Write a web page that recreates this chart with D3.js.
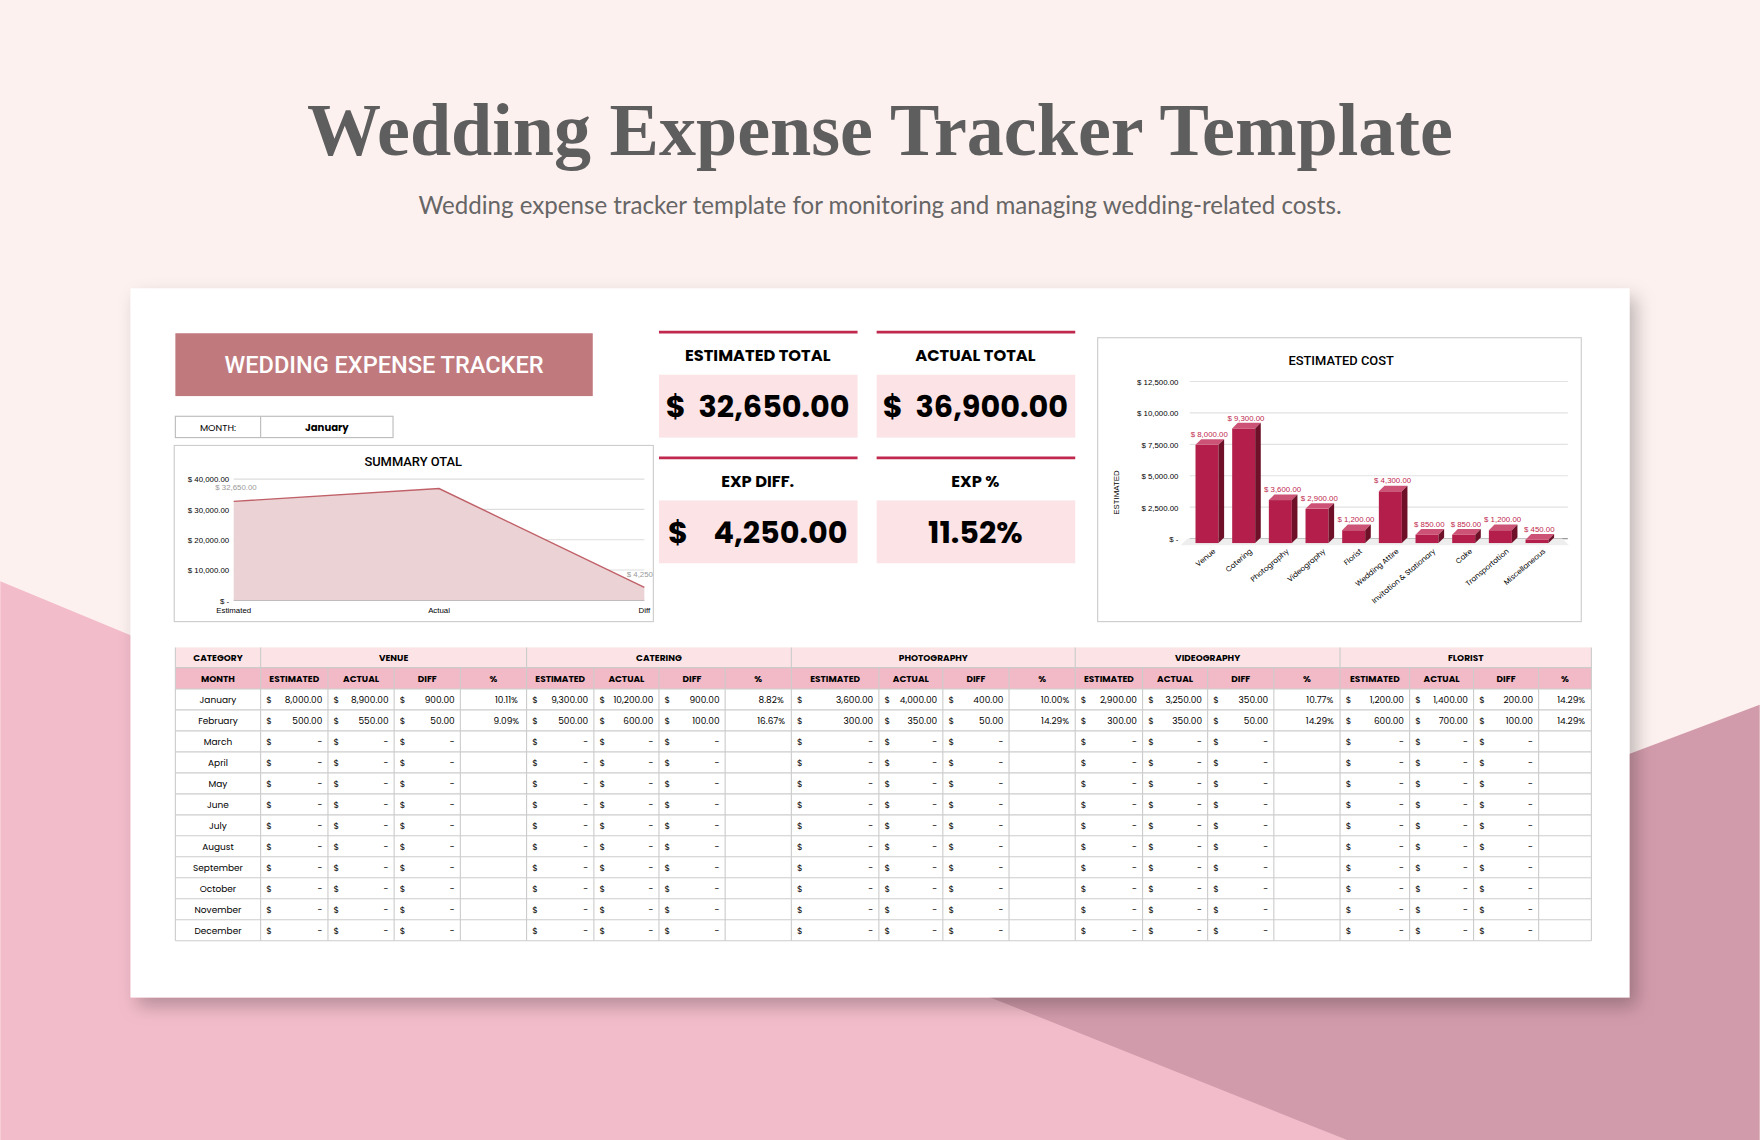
<!DOCTYPE html><html><head><meta charset="utf-8"><script src="https://cdn.jsdelivr.net/npm/d3@7"></script>
<style>body{margin:0;background:#fdf1ef}svg{display:block}</style></head><body><script>
const summaryLabels=["Estimated","Actual","Diff"];
const summaryValues=[32650,36900,4250];
const summaryTicks=[0,10000,20000,30000,40000];
const costCats=["Venue","Catering","Photography","Videography","Florist","Wedding Attire","Invitation & Stationary","Cake","Transportation","Miscellaneous"];
const costValues=[8000,9300,3600,2900,1200,4300,850,850,1200,450];
const costTicks=[0,2500,5000,7500,10000,12500];
const groups=["VENUE","CATERING","PHOTOGRAPHY","VIDEOGRAPHY","FLORIST"];
const months=["January","February","March","April","May","June","July","August","September","October","November","December"];
const tableJan=[["8,000.00","8,900.00","900.00","10.11%"],["9,300.00","10,200.00","900.00","8.82%"],["3,600.00","4,000.00","400.00","10.00%"],["2,900.00","3,250.00","350.00","10.77%"],["1,200.00","1,400.00","200.00","14.29%"]];
const tableFeb=[["500.00","550.00","50.00","9.09%"],["500.00","600.00","100.00","16.67%"],["300.00","350.00","50.00","14.29%"],["300.00","350.00","50.00","14.29%"],["600.00","700.00","100.00","14.29%"]];
const kpis=[["ESTIMATED TOTAL","$  32,650.00"],["ACTUAL TOTAL","$  36,900.00"],["EXP DIFF.","$    4,250.00"],["EXP %","11.52%"]];

const svg=d3.select("body").append("svg").attr("width",1760).attr("height",1140).attr("viewBox","0 0 1568 1016");
const F="Poppins, 'Open Sans', Roboto, sans-serif";
svg.append("rect").attr("width",1568).attr("height",1016).attr("fill","#fdf1ef");
svg.append("path").attr("d","M0,518 L1200,1016 L0,1016Z").attr("fill","#f3bccb");
svg.append("path").attr("d","M880,888 L1568,628 L1568,1016 L1200,1016Z").attr("fill","#d29bab");
svg.append("text").attr("x",784).attr("y",138).attr("text-anchor","middle").attr("font-family","'Liberation Serif', serif").attr("font-size",66).attr("font-weight","bold").attr("fill","#5e5e5e").text("Wedding Expense Tracker Template");
svg.append("text").attr("x",784).attr("y",191).attr("text-anchor","middle").attr("font-family","Lato, sans-serif").attr("font-size",21.5).attr("fill","#666").text("Wedding expense tracker template for monitoring and managing wedding-related costs.");
const defs=svg.append("defs");
const fl=defs.append("filter").attr("id","sh").attr("x","-5%").attr("y","-5%").attr("width","110%").attr("height","115%");
fl.append("feDropShadow").attr("dx",6).attr("dy",8).attr("stdDeviation",8).attr("flood-color","#000").attr("flood-opacity",0.25);
svg.append("rect").attr("x",116).attr("y",257).attr("width",1336).attr("height",632).attr("fill","#fff").attr("filter","url(#sh)");

svg.append("rect").attr("x",156).attr("y",297).attr("width",372).attr("height",56).attr("fill","#c07a7e");
svg.append("text").attr("x",342).attr("y",332).attr("text-anchor","middle").attr("font-family","Roboto, sans-serif").attr("font-size",21).attr("font-weight","500").attr("fill","#fff").text("WEDDING EXPENSE TRACKER");
svg.append("rect").attr("x",156).attr("y",371).attr("width",194).attr("height",19).attr("fill","#fff").attr("stroke","#bbb");
svg.append("line").attr("x1",232).attr("x2",232).attr("y1",371).attr("y2",390).attr("stroke","#bbb");
svg.append("text").attr("x",194).attr("y",384).attr("text-anchor","middle").attr("font-family",F).attr("font-size",8.5).text("MONTH:");
svg.append("text").attr("x",291).attr("y",384).attr("text-anchor","middle").attr("font-family",F).attr("font-size",9).attr("font-weight","bold").text("January");

kpis.forEach((k,i)=>{const x=587+(i%2)*194,y=i<2?296:408;
 svg.append("line").attr("x1",x).attr("x2",x+177).attr("y1",y).attr("y2",y).attr("stroke","#c0284e").attr("stroke-width",2.5);
 svg.append("text").attr("x",x+88).attr("y",y+26).attr("text-anchor","middle").attr("font-family",F).attr("font-size",14.5).attr("font-weight","bold").text(k[0]);
 svg.append("rect").attr("x",x).attr("y",y+38).attr("width",177).attr("height",56).attr("fill","#fbe3e6");
 svg.append("text").attr("x",x+88).attr("y",y+76).attr("text-anchor","middle").attr("font-family",F).attr("font-size",27).attr("font-weight","bold").attr("xml:space","preserve").style("white-space","pre").text(k[1]);
});

svg.append("rect").attr("x",155).attr("y",397).attr("width",427).attr("height",157).attr("fill","#fff").attr("stroke","#ccc");
svg.append("text").attr("x",368).attr("y",415).attr("text-anchor","middle").attr("font-family","Roboto, sans-serif").attr("font-size",11.5).attr("font-weight","500").text("SUMMARY OTAL");
const sx=d3.scalePoint().domain(summaryLabels).range([208,574]);
const sy=d3.scaleLinear().domain([0,40000]).range([535,427]);
summaryTicks.forEach(t=>{svg.append("line").attr("x1",208).attr("x2",574).attr("y1",sy(t)).attr("y2",sy(t)).attr("stroke",t?"#ddd":"#999");
 svg.append("text").attr("x",204).attr("y",sy(t)+3).attr("text-anchor","end").attr("font-family","Arimo, 'Liberation Sans', sans-serif").attr("font-size",7).text(t?"$ "+d3.format(",.2f")(t):"$ -");});
const area=d3.area().x((d,i)=>sx(summaryLabels[i])).y0(sy(0)).y1(d=>sy(d));
svg.append("path").attr("d",area(summaryValues)).attr("fill","#ebd3d5");
svg.append("path").attr("d",d3.line().x((d,i)=>sx(summaryLabels[i])).y(d=>sy(d))(summaryValues)).attr("fill","none").attr("stroke","#c06068").attr("stroke-width",1.3);
summaryLabels.forEach((l,i)=>svg.append("text").attr("x",sx(l)).attr("y",546).attr("text-anchor","middle").attr("font-family","'Liberation Sans', sans-serif").attr("font-size",7).text(l));
svg.append("text").attr("x",210).attr("y",437).attr("text-anchor","middle").attr("font-family","'Liberation Sans', sans-serif").attr("font-size",7).attr("fill","#999").text("$ 32,650.00");
svg.append("text").attr("x",570).attr("y",514).attr("text-anchor","middle").attr("font-family","'Liberation Sans', sans-serif").attr("font-size",7).attr("fill","#999").text("$ 4,250");

svg.append("rect").attr("x",978).attr("y",301).attr("width",431).attr("height",253).attr("fill","#fff").attr("stroke","#ccc");
svg.append("text").attr("x",1195).attr("y",325).attr("text-anchor","middle").attr("font-family","Roboto, sans-serif").attr("font-size",11.5).attr("font-weight","500").text("ESTIMATED COST");
svg.append("text").attr("transform","translate(997,439) rotate(-90)").attr("text-anchor","middle").attr("font-family","'Liberation Sans', sans-serif").attr("font-size",7).text("ESTIMATED");
const bx=d3.scaleBand().domain(costCats).range([1058,1392]).padding(0.22);
const by=d3.scaleLinear().domain([0,12500]).range([480,340]);
costTicks.forEach(t=>{svg.append("line").attr("x1",1060).attr("x2",1397).attr("y1",by(t)).attr("y2",by(t)).attr("stroke",t?"#e2e2e2":"#999");
 svg.append("text").attr("x",1050).attr("y",by(t)+3).attr("text-anchor","end").attr("font-family","'Liberation Sans', sans-serif").attr("font-size",7).text(t?"$ "+d3.format(",.2f")(t):"$ -");});
svg.append("path").attr("d","M1058,480 L1392,480 L1398,486 L1052,486Z").attr("fill","#eee");
costCats.forEach((c,i)=>{const x=bx(c),w=bx.bandwidth()-5,yv=by(costValues[i])+6,b=484,d=5;
 svg.append("rect").attr("x",x).attr("y",yv).attr("width",w).attr("height",b-yv).attr("fill","#b31f4a");
 svg.append("path").attr("d",`M${x},${yv} L${x+d},${yv-d} L${x+w+d},${yv-d} L${x+w},${yv}Z`).attr("fill","#cc5376");
 svg.append("path").attr("d",`M${x+w},${yv} L${x+w+d},${yv-d} L${x+w+d},${b-d} L${x+w},${b}Z`).attr("fill","#6d1028");
 svg.append("text").attr("x",x+w/2+2).attr("y",by(costValues[i])-1).attr("text-anchor","middle").attr("font-family","'Liberation Sans', sans-serif").attr("font-size",7).attr("fill","#c0284e").text("$ "+d3.format(",.2f")(costValues[i]));
 svg.append("text").attr("transform",`translate(${x+w/2+8},492) rotate(-40)`).attr("text-anchor","end").attr("font-family",F).attr("font-size",6.5).text(c);
});

const colX=[156,232,292,351,410,469,529,587,646,705,783,840,899,958,1018,1076,1135,1194,1256,1313,1371,1418];
const r0=577,r1=595,r2=614,rh=18.7;
svg.append("rect").attr("x",156).attr("y",r0).attr("width",1262).attr("height",18).attr("fill","#fbe3e6");
svg.append("rect").attr("x",156).attr("y",r1).attr("width",1262).attr("height",19).attr("fill","#f2b9c6");
const tf=(x,y,s,a,b)=>svg.append("text").attr("x",x).attr("y",y).attr("text-anchor",a||"middle").attr("font-family",F).attr("font-size",8).attr("font-weight",b?"bold":"normal").text(s);
tf(194,589,"CATEGORY","middle",1);tf(194,608,"MONTH","middle",1);
groups.forEach((g,i)=>{tf((colX[1+4*i]+colX[5+4*i])/2,589,g,"middle",1);
 ["ESTIMATED","ACTUAL","DIFF","%"].forEach((h,j)=>tf((colX[1+4*i+j]+colX[2+4*i+j])/2,608,h,"middle",1));});
months.forEach((m,k)=>{const y=r2+k*rh,ty=y+12.5;
 svg.append("line").attr("x1",156).attr("x2",1418).attr("y1",y+rh).attr("y2",y+rh).attr("stroke","#ccc");
 tf(194,ty,m);
 groups.forEach((g,i)=>{const row=k==0?tableJan[i]:k==1?tableFeb[i]:null;
  for(let j=0;j<3;j++){const x0=colX[1+4*i+j],x1=colX[2+4*i+j];tf(x0+5,ty,"$","start");tf(x1-5,ty,row?row[j]:"-  ","end");}
  if(row)tf(colX[5+4*i]-18,ty,row[3],"middle");});
});
colX.forEach((x,i)=>svg.append("line").attr("x1",x).attr("x2",x).attr("y1",[0,1,5,9,13,17,21].includes(i)?r0:r1).attr("y2",r2+12*rh).attr("stroke","#ccc"));
svg.append("line").attr("x1",156).attr("x2",1418).attr("y1",r1).attr("y2",r1).attr("stroke","#ccc");
svg.append("line").attr("x1",156).attr("x2",1418).attr("y1",r2).attr("y2",r2).attr("stroke","#ccc");
</script></body></html>
